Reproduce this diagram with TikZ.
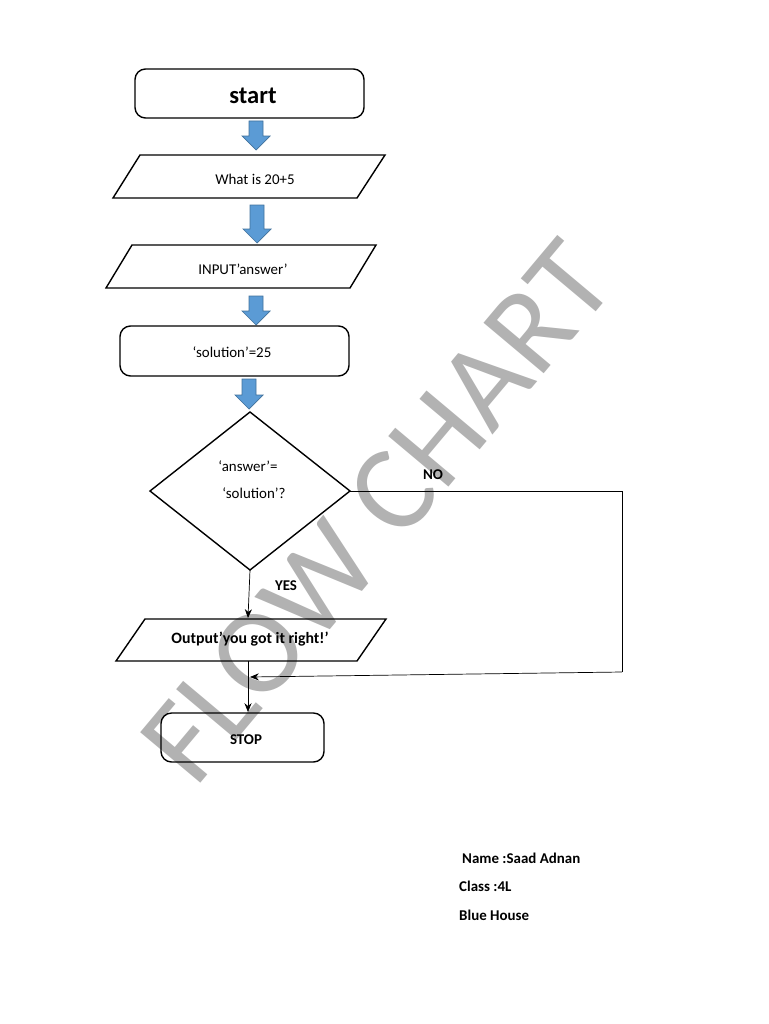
\documentclass[tikz,border=0pt]{standalone}
\usepackage{fontspec}
\setmainfont{Carlito}
\usetikzlibrary{arrows.meta}
\definecolor{arrblue}{RGB}{91,155,213}
\definecolor{arrbd}{RGB}{65,113,156}
\begin{document}
\begin{tikzpicture}[x=0.02cm,y=-0.02cm,
  box/.style={draw,thick,rounded corners=6pt},
  lbl/.style={font=\fontsize{8.5}{10}\selectfont},
  conn/.style={-{Stealth[length=5pt,width=4pt]},thin}]
\useasboundingbox (0,0) rectangle (768,1024);
% watermark
\node[rotate=50,text=black!30,font=\fontsize{85}{90}\selectfont,scale=0.82] (wm) at (377,512) {FLOW CHART};
% block arrows
\newcommand\blkarrow[3]{% x, ytop, ybot
  \fill[arrblue,draw=arrbd] (#1-7,#2) -- (#1+7,#2) -- (#1+7,#3-14) -- (#1+14,#3-14) -- (#1,#3) -- (#1-14,#3-14) -- (#1-7,#3-14) -- cycle;}
\blkarrow{256}{121}{150}
\blkarrow{257}{205}{243}
\blkarrow{256}{296}{325}
\blkarrow{249}{379}{409}
% nodes
\draw[box] (135,69) rectangle (364,118);
\node[font=\fontsize{14}{16}\selectfont\bfseries] (start) at (253,96) {start};
\draw[thick] (140,155) -- (385,155) -- (357,198) -- (113,198) -- cycle;
\node[lbl] (q) at (255,179) {What is 20+5};
\draw[thick] (132,245) -- (376,245) -- (350,288) -- (106,288) -- cycle;
\node[lbl] (inp) at (243,269) {INPUT’answer’};
\draw[box] (120,326) rectangle (349,376);
\node[lbl] (sol) at (232,352) {‘solution’=25};
\draw[thick] (250,412) -- (350,491) -- (250,570) -- (150,491) -- cycle;
\coordinate (dr) at (350,491);
\coordinate (db) at (250,570);
\node[lbl] (d1) at (248,466) {‘answer’=};
\node[lbl] (d2) at (254,493) {‘solution’?};
\draw[thick] (145,619) -- (386,619) -- (357,661) -- (116,661) -- cycle;
\coordinate (ot) at (248,618);
\coordinate (ob) at (248,661);
\node[font=\fontsize{9}{11}\selectfont\bfseries] (out) at (250,639) {Output’you got it right!’};
\draw[box] (161,713) rectangle (324,762);
\coordinate (st) at (248,712);
\node[font=\fontsize{8.5}{10}\selectfont\bfseries] (stop) at (246,740) {STOP};
% connectors
\coordinate (c1) at (622,491);
\coordinate (c2) at (622,672);
\coordinate (c3) at (250,677);
\draw[thin] (dr) -- (c1) -- (c2);
\draw[conn] (c2) -- (c3);
\draw[conn] (db) -- (ot);
\draw[conn] (ob) -- (st);
\node[font=\fontsize{8.5}{10}\selectfont\bfseries] (no) at (433,475) {NO};
\node[font=\fontsize{8.5}{10}\selectfont\bfseries] (yes) at (286,586) {YES};
% name
\node[font=\fontsize{8.5}{10}\selectfont\bfseries,anchor=west] (n1) at (456,858) {Name :Saad Adnan};
\node[font=\fontsize{8.5}{10}\selectfont\bfseries,anchor=west] (n2) at (453,886) {Class :4L};
\node[font=\fontsize{8.5}{10}\selectfont\bfseries,anchor=west] (n3) at (453,915) {Blue House};
\end{tikzpicture}
\end{document}
